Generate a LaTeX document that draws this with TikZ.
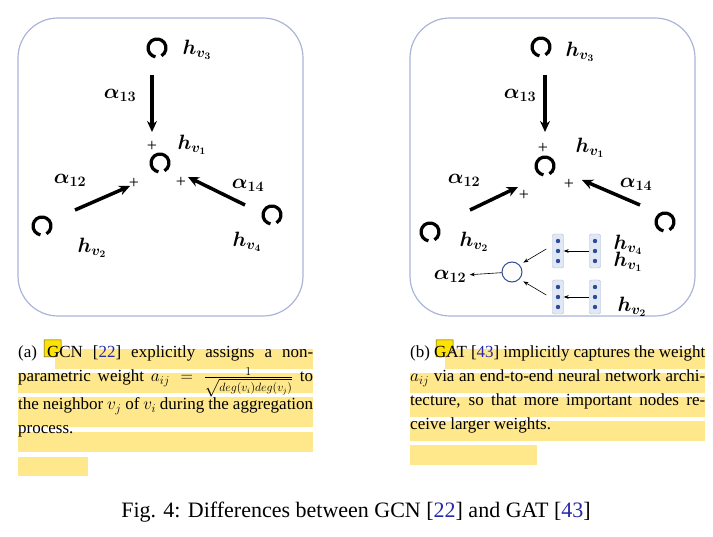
\documentclass[tikz,border=0pt]{standalone}
\usepackage{amsmath}
\usepackage{xcolor}
\usepackage{fontspec}
\setmainfont{Liberation Serif}
\usetikzlibrary{arrows.meta,calc}
\definecolor{panelline}{RGB}{170,180,215}
\definecolor{hilite}{RGB}{255,232,140}
\definecolor{citeblue}{RGB}{40,40,170}
\definecolor{dotblue}{RGB}{45,75,150}
\definecolor{vecbox}{RGB}{225,232,245}
\tikzset{
  panel/.style={draw=panelline,line width=1.2pt,rounded corners=40pt},
  brush/.style={line width=3.5pt,-{Stealth[length=11pt,width=10pt]}},
  thin arrow/.style={line width=0.6pt,-{Stealth[length=5pt]}},
  lab/.style={font=\fontsize{20}{20}\selectfont\boldmath},
  plus/.style={font=\fontsize{18}{18}\selectfont},
  vec/.style={draw=panelline,fill=vecbox,rounded corners=2pt,minimum width=11pt,minimum height=34pt,inner sep=0pt},
  subcap/.style={anchor=north west,text width=295pt,align=justify,inner sep=0pt,font=\fontsize{17}{24}\selectfont},
}
\newcommand{\ring}[2]{\draw[line width=3.2pt] (#1) ++(100:9) arc (100:420:9); \coordinate (#2) at (#1);}
\newcommand{\cit}[1]{[\textcolor{citeblue}{#1}]}
\newcommand{\vecdots}[1]{\foreach \dy in {-10,0,10} \fill[dotblue] ($(#1)+(0,\dy)$) circle (2.2);}
\begin{document}
\begin{tikzpicture}[x=1pt,y=-1pt]
\useasboundingbox (0,0) rectangle (713,537);
\draw[panel] (18,18) rectangle (303,316);
\draw[panel] (410,18) rectangle (695,316);

% GCN panel
\ring{157,48}{a3} \ring{160,163}{a1} \ring{42,226}{a2} \ring{272,215}{a4}
\node[lab] at (197,50) {$h_{v_3}$};
\node[lab] at (192,145) {$h_{v_1}$};
\node[lab] at (92,248) {$h_{v_2}$};
\node[lab] at (247,242) {$h_{v_4}$};
\node[lab] at (120,95) {$\alpha_{13}$};
\node[lab] at (70,180) {$\alpha_{12}$};
\node[lab] at (248,185) {$\alpha_{14}$};
\node[plus] at (152,146) {+};
\node[plus] at (134,183) {+};
\node[plus] at (181,182) {+};
\coordinate (t13) at (152,75); \coordinate (h13) at (152,132);
\coordinate (t12) at (75,210); \coordinate (h12) at (130,186);
\coordinate (t14) at (245,205); \coordinate (h14) at (188,177);
\draw[brush] (t13) -- (h13);
\draw[brush] (t12) -- (h12);
\draw[brush] (t14) -- (h14);

% GAT panel
\ring{541,47}{b3} \ring{545,166}{b1} \ring{430,232}{b2} \ring{665,222}{b4}
\node[lab] at (580,52) {$h_{v_3}$};
\node[lab] at (590,148) {$h_{v_1}$};
\node[lab] at (474,242) {$h_{v_2}$};
\node[lab] at (628,245) {$h_{v_4}$};
\node[lab] at (520,95) {$\alpha_{13}$};
\node[lab] at (464,180) {$\alpha_{12}$};
\node[lab] at (636,184) {$\alpha_{14}$};
\node[plus] at (543,148) {+};
\node[plus] at (524,195) {+};
\node[plus] at (569,184) {+};
\coordinate (s13) at (545,75); \coordinate (e13) at (545,132);
\coordinate (s12) at (470,210); \coordinate (e12) at (518,187);
\coordinate (s14) at (640,205); \coordinate (e14) at (582,180);
\draw[brush] (s13) -- (e13);
\draw[brush] (s12) -- (e12);
\draw[brush] (s14) -- (e14);
% attention
\node[vec] (w1) at (558,251) {}; \node[vec] (v1) at (595,251) {};
\node[vec] (w2) at (558,297) {}; \node[vec] (v2) at (595,297) {};
\vecdots{w1} \vecdots{v1} \vecdots{w2} \vecdots{v2}
\node[draw=dotblue,line width=1pt,circle,minimum size=20pt,inner sep=0pt] (att) at (512,272) {};
\node[lab] (a12) at (450,276) {$\alpha_{12}$};
\node[lab] at (628,262) {$h_{v_1}$};
\node[lab] at (632,307) {$h_{v_2}$};
\draw[thin arrow] (v1) -- (w1);
\draw[thin arrow] (v2) -- (w2);
\draw[thin arrow] ($(w1.west)+(-6,-2)$) -- ($(att.north east)+(4,-2)$);
\draw[thin arrow] ($(w2.west)+(-6,-2)$) -- ($(att.south east)+(4,2)$);
\draw[thin arrow] (att) -- (a12);

% highlights
\fill[hilite] (55,349) rectangle (313,369);
\fill[hilite] (18,373) rectangle (313,393);
\fill[hilite] (18,397) rectangle (313,427);
\fill[hilite] (18,432) rectangle (313,452);
\fill[hilite] (18,457) rectangle (88,476);
\fill[hilite] (445,349) rectangle (705,369);
\fill[hilite] (410,373) rectangle (705,393);
\fill[hilite] (410,397) rectangle (705,417);
\fill[hilite] (410,421) rectangle (705,441);
\fill[hilite] (410,445) rectangle (537,465);
% note icons
\foreach \nx in {44,436} {
  \fill[yellow!85!orange,draw=black!70,line width=0.5pt] (\nx,340) -- (\nx+17,340) -- (\nx+17,350) -- (\nx+10,357) -- (\nx,357) -- cycle;
}
\node[subcap] (capa) at (18,346) {(a) GCN \cit{22} explicitly assigns a non-parametric weight $a_{ij}=\frac{1}{\sqrt{deg(v_i)deg(v_j)}}$ to the neighbor $v_j$ of $v_i$ during the aggregation process.};
\node[subcap] (capb) at (410,346) {(b) GAT \cit{43} implicitly captures the weight $a_{ij}$ via an end-to-end neural network architecture, so that more important nodes receive larger weights.};
\node[font=\fontsize{22}{22}\selectfont] (fig) at (356,512) {Fig. 4: Differences between GCN \cit{22} and GAT \cit{43}};
\end{tikzpicture}
\end{document}
